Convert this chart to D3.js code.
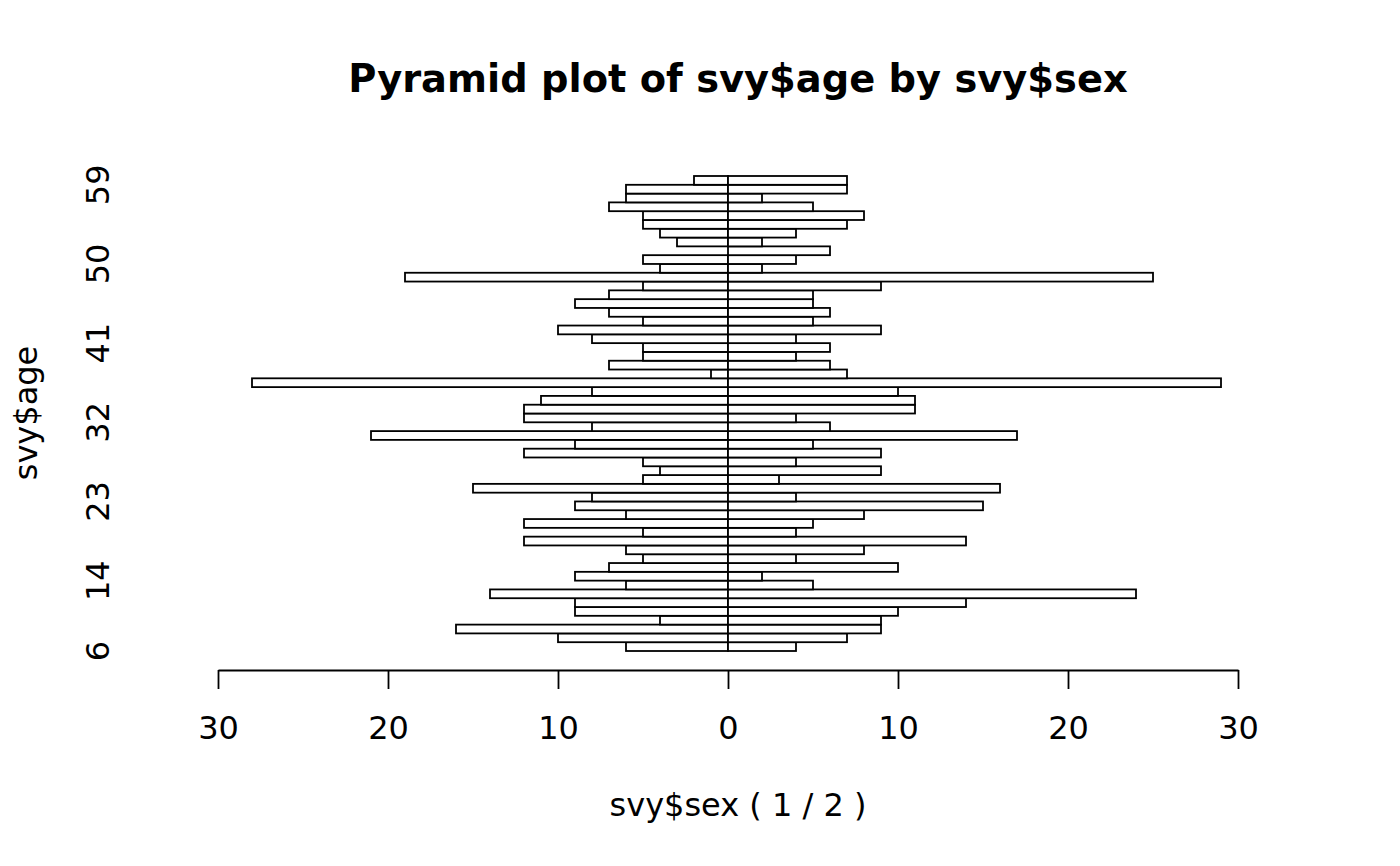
<!DOCTYPE html>
<html>
<head>
<meta charset="utf-8">
<script src="https://cdn.jsdelivr.net/npm/d3@7"></script>
<style>
  body { margin: 0; background: #fff; }
  text { font-family: "DejaVu Sans", sans-serif; fill: #000; }
</style>
</head>
<body>
<div id="container"></div>
<script>
// age categories (one bar each), bottom to top
let ages = [6, 7, 8, 9, 10, 11, 12, 13, 14, 15, 16, 17, 18, 19, 20, 21, 22, 23, 24, 25,
            26, 27, 28, 29, 30, 31, 32, 33, 34, 35, 36, 37, 38, 39, 40, 41, 42, 43, 44, 45,
            46, 47, 48, 49, 50, 51, 52, 53, 54, 55, 56, 57, 58, 59];
// counts for svy$sex == 1 (left) and svy$sex == 2 (right)
let sex1 = [6, 10, 16, 4, 9, 9, 14, 6, 9, 7, 5, 6, 12, 5, 12, 6, 9, 8, 15, 5,
            4, 5, 12, 9, 21, 8, 12, 12, 11, 8, 28, 1, 7, 5, 5, 8, 10, 5, 7, 9,
            7, 5, 19, 4, 5, 0, 3, 4, 5, 5, 7, 6, 6, 2];
let sex2 = [4, 7, 9, 9, 10, 14, 24, 5, 2, 10, 4, 8, 14, 4, 5, 8, 15, 4, 16, 3,
            9, 4, 9, 5, 17, 6, 4, 11, 11, 10, 29, 7, 6, 4, 6, 4, 9, 5, 6, 5,
            5, 9, 25, 2, 4, 6, 2, 4, 7, 8, 5, 2, 7, 7];
// tick labels
let xTicks = [-30, -20, -10, 0, 10, 20, 30];
let yTicks = [6, 14, 23, 32, 41, 50, 59];

let svg = d3.select('#container')
            .append('svg')
            .attr('width', 1400)
            .attr('height', 866);

let x = d3.scaleLinear().domain([-30, 30]).range([218, 1238]);
let y = d3.scaleBand().domain(ages).range([651, 176]).padding(0);

let rows = ages.map((a, i) => ({age: a, f: sex1[i], m: sex2[i]}));

// left bars (sex 1)
svg.selectAll('rect.left')
    .data(rows)
    .enter()
    .append('rect')
    .attr('class', 'left')
    .attr('x', d => x(-d.f))
    .attr('y', d => y(d.age))
    .attr('width', d => x(0) - x(-d.f))
    .attr('height', y.bandwidth())
    .attr('fill', '#fff')
    .attr('stroke', '#000')
    .attr('stroke-width', 1.8);

// right bars (sex 2)
svg.selectAll('rect.right')
    .data(rows)
    .enter()
    .append('rect')
    .attr('class', 'right')
    .attr('x', x(0))
    .attr('y', d => y(d.age))
    .attr('width', d => x(d.m) - x(0))
    .attr('height', y.bandwidth())
    .attr('fill', '#fff')
    .attr('stroke', '#000')
    .attr('stroke-width', 1.8);

// x axis
let xAxis = svg.append('g')
    .attr('transform', 'translate(0,670)')
    .call(d3.axisBottom(x)
        .tickValues(xTicks)
        .tickFormat(d => Math.abs(d))
        .tickSize(19)
        .tickSizeOuter(0)
        .tickPadding(27));
xAxis.selectAll('path, line').attr('stroke', '#000').attr('stroke-width', 1.8);
xAxis.selectAll('text').attr('font-size', 32).attr('font-family', '"DejaVu Sans", sans-serif');

// y axis (labels only, rotated)
let yAxis = svg.append('g')
    .attr('transform', 'translate(109,' + (y.bandwidth() / 2) + ')')
    .call(d3.axisLeft(y).tickValues(yTicks).tickSize(0));
yAxis.select('.domain').remove();
yAxis.selectAll('text')
    .attr('transform', 'rotate(-90)')
    .attr('x', 0)
    .attr('y', 0)
    .attr('dy', 0)
    .attr('text-anchor', 'middle')
    .attr('font-size', 32)
    .attr('font-family', '"DejaVu Sans", sans-serif');

// title and axis titles
svg.append('text')
    .attr('x', 738)
    .attr('y', 92)
    .attr('text-anchor', 'middle')
    .attr('font-size', 38.4)
    .attr('font-weight', 'bold')
    .text('Pyramid plot of svy$age by svy$sex');

svg.append('text')
    .attr('x', 738)
    .attr('y', 816)
    .attr('text-anchor', 'middle')
    .attr('font-size', 32)
    .text('svy$sex ( 1 / 2 )');

svg.append('text')
    .attr('transform', 'translate(37,413) rotate(-90)')
    .attr('text-anchor', 'middle')
    .attr('font-size', 32)
    .text('svy$age');
</script>
</body>
</html>
